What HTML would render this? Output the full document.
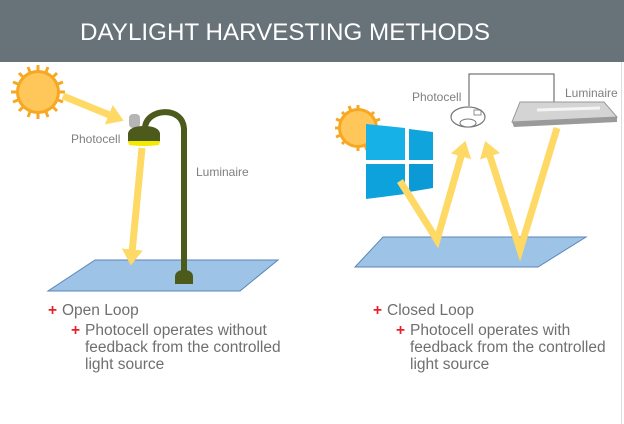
<!DOCTYPE html>
<html><head><meta charset="utf-8"><style>
html,body{margin:0;padding:0;background:#fff}
body{width:624px;height:424px;overflow:hidden;position:relative;font-family:"Liberation Sans",Arial,sans-serif}
svg{position:absolute;left:0;top:0}
</style></head><body>
<svg width="624" height="424" viewBox="0 0 624 424" xmlns="http://www.w3.org/2000/svg" font-family="Liberation Sans, Arial, sans-serif">
<defs>
<marker id="ah" markerWidth="3" markerHeight="3" refX="0.5" refY="1.5" orient="auto" markerUnits="strokeWidth">
<path d="M0,0 L2.3,1.5 L0,3 Z" fill="#ffd966"/></marker>
</defs>
<rect x="0" y="0" width="624" height="62" fill="#687279"/>
<line x1="621.5" y1="62" x2="621.5" y2="424" stroke="#ddd" stroke-width="1"/>
<text x="80" y="40" font-size="24" fill="#fff" textLength="410" lengthAdjust="spacingAndGlyphs">DAYLIGHT HARVESTING METHODS</text>

<!-- LEFT -->
<polygon points="95,260 278,260 240,291 48,291" fill="#9dc3e6" stroke="#5a86b8" stroke-width="1"/>
<g stroke="#f7a823" stroke-width="3">
<line x1="38" y1="65" x2="38" y2="119"/><line x1="11" y1="92" x2="65" y2="92"/>
<line x1="19" y1="73" x2="57" y2="111"/><line x1="57" y1="73" x2="19" y2="111"/>
<line x1="28" y1="67" x2="48" y2="117"/><line x1="48" y1="67" x2="28" y2="117"/>
<line x1="13" y1="82" x2="63" y2="102"/><line x1="63" y1="82" x2="13" y2="102"/>
</g>
<circle cx="38" cy="92" r="22" fill="#f7a823"/>
<circle cx="38" cy="92" r="19" fill="#ffc65a"/>
<line x1="63" y1="96" x2="112" y2="116" stroke="#ffd966" stroke-width="7" marker-end="url(#ah)"/>
<line x1="142" y1="148" x2="132" y2="253" stroke="#ffd966" stroke-width="7" marker-end="url(#ah)"/>
<path d="M145,128 C146,108 184,105 184,130 L184,276" fill="none" stroke="#4c5a1c" stroke-width="6"/>
<path d="M175,284 L175,276 Q176,270 184,270 Q192,270 193,276 L193,284 Z" fill="#4c5a1c"/>
<rect x="129" y="114" width="11" height="14" rx="4" fill="#b5b5b5"/>
<path d="M128,142 L128,133 Q130,126 144,126 Q158,126 160,133 L160,142 Z" fill="#4c5a1c"/>
<path d="M128,141 L160,141 L159,145 Q144,147 129,145 Z" fill="#f2ea00"/>
<text x="71" y="143" font-size="12" fill="#7f7f7f">Photocell</text>
<text x="196" y="176" font-size="12" fill="#7f7f7f">Luminaire</text>

<!-- RIGHT -->
<polygon points="383,237 586,237 538,267 355,267" fill="#9dc3e6" stroke="#5a86b8" stroke-width="1"/>
<g stroke="#f7a823" stroke-width="3">
<line x1="358" y1="105" x2="358" y2="151"/><line x1="335" y1="128" x2="381" y2="128"/>
<line x1="342" y1="112" x2="374" y2="144"/><line x1="374" y1="112" x2="342" y2="144"/>
<line x1="349" y1="106" x2="367" y2="150"/><line x1="336" y1="119" x2="380" y2="137"/>
<line x1="336" y1="137" x2="380" y2="119"/>
</g>
<circle cx="358" cy="128" r="20" fill="#f7a823"/>
<circle cx="358" cy="128" r="17" fill="#ffc65a"/>
<polygon points="366,124 405,128 405,160 366,160" fill="#16b1e6"/>
<polygon points="409,129 433,132 433,160 409,160" fill="#10a4dc"/>
<polygon points="366,164 405,164 405,194 366,199" fill="#0ea2dc"/>
<polygon points="409,164 433,164 433,188 409,192" fill="#0c9ad6"/>
<polyline points="469,106 469,74 554,74 554,104" fill="none" stroke="#555" stroke-width="1"/>
<ellipse cx="468" cy="117" rx="17" ry="10" fill="#fff" stroke="#777" stroke-width="1.2"/>
<ellipse cx="468" cy="123" rx="8" ry="4" fill="#fff" stroke="#777" stroke-width="1"/>
<rect x="474" y="110" width="7" height="5" fill="none" stroke="#777" stroke-width="0.8"/>
<polygon points="520,102 604,102 617,117 512,122" fill="#d4d4d4" stroke="#999" stroke-width="1"/>
<polygon points="512,122 617,117 617,122 514,127" fill="#9a9a9a"/>
<line x1="537" y1="110" x2="600" y2="108" stroke="#f4f4f4" stroke-width="3"/>
<text x="412" y="101" font-size="12" fill="#7f7f7f">Photocell</text>
<text x="565" y="97" font-size="12" fill="#7f7f7f">Luminaire</text>
<polyline points="400,181 437,240 462,153" fill="none" stroke="#ffd966" stroke-width="7" stroke-linejoin="miter" marker-end="url(#ah)"/>
<polyline points="557,128 520,250 489,153" fill="none" stroke="#ffd966" stroke-width="7" stroke-linejoin="miter" marker-end="url(#ah)"/>

<!-- TEXT -->
<g font-size="15.5" fill="#6f6f6f">
<text x="48" y="315" fill="#e8202a" font-weight="bold">+</text><text x="62" y="315">Open Loop</text>
<text x="71" y="335" fill="#e8202a" font-weight="bold">+</text><text x="85" y="335">Photocell operates without</text>
<text x="85" y="352">feedback from the controlled</text>
<text x="85" y="369">light source</text>
<text x="373" y="315" fill="#e8202a" font-weight="bold">+</text><text x="387" y="315">Closed Loop</text>
<text x="396" y="335" fill="#e8202a" font-weight="bold">+</text><text x="410" y="335">Photocell operates with</text>
<text x="410" y="352">feedback from the controlled</text>
<text x="410" y="369">light source</text>
</g>
</svg>
</body></html>
